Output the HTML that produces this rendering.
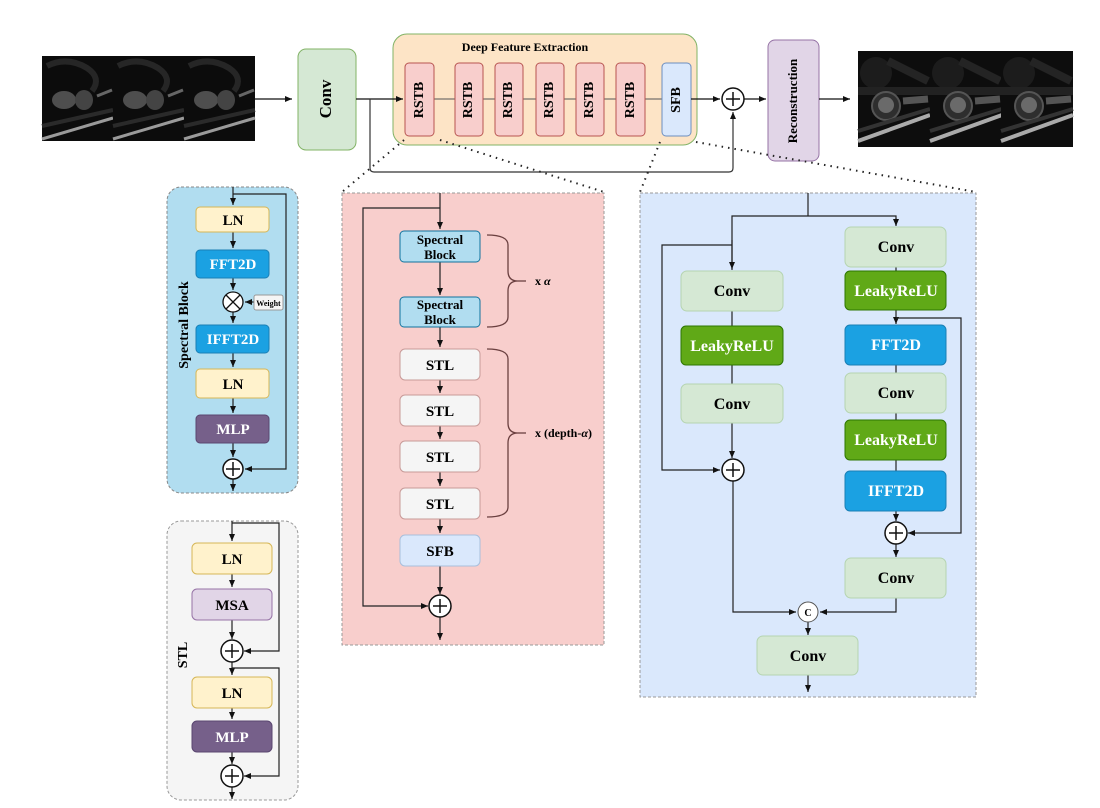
<!DOCTYPE html>
<html><head><meta charset="utf-8"><style>
html,body{margin:0;padding:0;background:#fff;}
svg{display:block;}
text{font-family:"Liberation Serif",serif;font-weight:bold;}
</style></head><body>
<svg width="1100" height="808" viewBox="0 0 1100 808" xmlns="http://www.w3.org/2000/svg">
<defs>
<marker id="a" markerWidth="8" markerHeight="8" refX="7" refY="4" orient="auto" markerUnits="userSpaceOnUse"><path d="M0,1 L7,4 L0,7 Z" fill="#111"/></marker>
<g id="mriIn">
<rect x="0" y="0" width="71" height="85" fill="#0c0c0c"/>
<path d="M5,10 Q25,0 45,12 Q60,22 50,35" stroke="#262626" stroke-width="6" fill="none"/>
<ellipse cx="22" cy="44" rx="12" ry="9" fill="#4e4e4e"/>
<ellipse cx="42" cy="44" rx="9" ry="10" fill="#444"/>
<path d="M55,40 L70,34" stroke="#666" stroke-width="3"/>
<path d="M0,83 L71,62" stroke="#9a9a9a" stroke-width="3"/>
<path d="M0,70 L71,54" stroke="#2a2a2a" stroke-width="4"/>
</g>
<g id="mriOut">
<rect x="0" y="0" width="72" height="96" fill="#0d0d0d"/>
<ellipse cx="18" cy="22" rx="16" ry="16" fill="#1c1c1c"/>
<path d="M30,10 L70,30" stroke="#242424" stroke-width="8"/>
<rect x="0" y="36" width="72" height="8" fill="#222"/>
<circle cx="28" cy="55" r="14" fill="#2e2e2e" stroke="#555" stroke-width="2"/>
<circle cx="28" cy="54" r="8" fill="#6a6a6a"/>
<path d="M45,50 L70,48" stroke="#555" stroke-width="7"/>
<path d="M0,90 L72,64" stroke="#aaa" stroke-width="4"/>
<path d="M0,80 L72,58" stroke="#333" stroke-width="4"/>
</g>
</defs>

<use href="#mriIn" x="42" y="56"/><use href="#mriIn" x="113" y="56"/><use href="#mriIn" x="184" y="56"/>
<line x1="255" y1="99" x2="292" y2="99" stroke="#111" stroke-width="1.2" marker-end="url(#a)"/>

<rect x="298" y="49" width="58" height="101" rx="8" fill="#d5e8d4" stroke="#82b366"/>
<text x="327" y="99" font-size="17" text-anchor="middle" dominant-baseline="middle" transform="rotate(-90 327 99)">Conv</text>

<rect x="393" y="34" width="304" height="111" rx="14" fill="#fde4c6" stroke="#82b366"/>
<text x="525" y="51" font-size="12" text-anchor="middle">Deep Feature Extraction</text>
<line x1="356" y1="99" x2="403" y2="99" stroke="#111" stroke-width="1.2" marker-end="url(#a)"/>
<line x1="434" y1="99" x2="662" y2="99" stroke="#555" stroke-width="1"/>
<g font-size="14">
<rect x="405" y="63" width="29" height="73" rx="4" fill="#f8cecc" stroke="#b85450"/>
<rect x="455" y="63" width="28" height="73" rx="4" fill="#f8cecc" stroke="#b85450"/>
<rect x="495" y="63" width="28" height="73" rx="4" fill="#f8cecc" stroke="#b85450"/>
<rect x="536" y="63" width="28" height="73" rx="4" fill="#f8cecc" stroke="#b85450"/>
<rect x="576" y="63" width="28" height="73" rx="4" fill="#f8cecc" stroke="#b85450"/>
<rect x="616" y="63" width="29" height="73" rx="4" fill="#f8cecc" stroke="#b85450"/>
<rect x="662" y="63" width="29" height="73" rx="4" fill="#dae8fc" stroke="#6c8ebf"/>
<text x="420" y="100" text-anchor="middle" dominant-baseline="middle" transform="rotate(-90 420 100)">RSTB</text>
<text x="469" y="100" text-anchor="middle" dominant-baseline="middle" transform="rotate(-90 469 100)">RSTB</text>
<text x="509" y="100" text-anchor="middle" dominant-baseline="middle" transform="rotate(-90 509 100)">RSTB</text>
<text x="550" y="100" text-anchor="middle" dominant-baseline="middle" transform="rotate(-90 550 100)">RSTB</text>
<text x="590" y="100" text-anchor="middle" dominant-baseline="middle" transform="rotate(-90 590 100)">RSTB</text>
<text x="631" y="100" text-anchor="middle" dominant-baseline="middle" transform="rotate(-90 631 100)">RSTB</text>
<text x="677" y="100" text-anchor="middle" dominant-baseline="middle" transform="rotate(-90 677 100)">SFB</text>
</g>
<line x1="691" y1="99" x2="720" y2="99" stroke="#111" stroke-width="1.2" marker-end="url(#a)"/>
<circle cx="733" cy="99" r="11" fill="#fff" stroke="#111" stroke-width="1.5"/>
<path d="M733,92 V106 M726,99 H740" stroke="#111" stroke-width="1.5"/>
<path d="M370,99 V168 Q370,172 374,172 H729 Q733,172 733,168 V112" fill="none" stroke="#333" stroke-width="1.2" marker-end="url(#a)"/>
<line x1="744" y1="99" x2="766" y2="99" stroke="#111" stroke-width="1.2" marker-end="url(#a)"/>

<rect x="768" y="40" width="51" height="121" rx="7" fill="#e1d5e7" stroke="#9673a6"/>
<text x="794" y="101" font-size="13" text-anchor="middle" dominant-baseline="middle" transform="rotate(-90 794 101)">Reconstruction</text>
<line x1="819" y1="99" x2="850" y2="99" stroke="#111" stroke-width="1.2" marker-end="url(#a)"/>
<use href="#mriOut" x="858" y="51"/><use href="#mriOut" x="930" y="51"/><use href="#mriOut" x="1001" y="51"/>

<g stroke="#222" stroke-width="2" stroke-dasharray="1.5,5" fill="none">
<line x1="404" y1="140" x2="342" y2="192"/>
<line x1="440" y1="140" x2="604" y2="192"/>
<line x1="660" y1="142" x2="640" y2="192"/>
<line x1="696" y1="142" x2="976" y2="192"/>
</g>

<rect x="167" y="187" width="131" height="306" rx="14" fill="#b1ddf0" stroke="#888" stroke-dasharray="3,2"/>
<text x="185" y="325" font-size="14" text-anchor="middle" dominant-baseline="middle" transform="rotate(-90 185 325)">Spectral Block</text>
<g stroke="#222" stroke-width="1.2" fill="none">
<line x1="233" y1="187" x2="233" y2="205" marker-end="url(#a)"/>
<path d="M233,194 H286 V469 H245" marker-end="url(#a)"/>
<line x1="233" y1="232" x2="233" y2="248" marker-end="url(#a)"/>
<line x1="233" y1="278" x2="233" y2="290" marker-end="url(#a)"/>
<line x1="254" y1="302" x2="245" y2="302" marker-end="url(#a)"/>
<line x1="233" y1="312" x2="233" y2="323" marker-end="url(#a)"/>
<line x1="233" y1="353" x2="233" y2="367" marker-end="url(#a)"/>
<line x1="233" y1="398" x2="233" y2="413" marker-end="url(#a)"/>
<line x1="233" y1="443" x2="233" y2="457" marker-end="url(#a)"/>
<line x1="233" y1="479" x2="233" y2="491" marker-end="url(#a)"/>
</g>
<g font-size="15" text-anchor="middle">
<rect x="196" y="207" width="73" height="25" rx="4" fill="#fff2cc" stroke="#d6b656"/><text x="233" y="225">LN</text>
<rect x="196" y="250" width="73" height="28" rx="4" fill="#1ba1e2" stroke="#1a7fb5"/><text x="233" y="269" fill="#fff">FFT2D</text>
<rect x="196" y="325" width="73" height="28" rx="4" fill="#1ba1e2" stroke="#1a7fb5"/><text x="233" y="344" fill="#fff">IFFT2D</text>
<rect x="196" y="369" width="73" height="29" rx="4" fill="#fff2cc" stroke="#d6b656"/><text x="233" y="389">LN</text>
<rect x="196" y="415" width="73" height="28" rx="4" fill="#76608a" stroke="#5a4670"/><text x="233" y="434" fill="#fff">MLP</text>
</g>
<circle cx="233" cy="302" r="10" fill="#fff" stroke="#111" stroke-width="1.3"/>
<path d="M226,295 L240,309 M240,295 L226,309" stroke="#111" stroke-width="1.3"/>
<rect x="254" y="295" width="29" height="15" rx="2" fill="#f5f5f5" stroke="#999"/>
<text x="268.5" y="306" font-size="8" text-anchor="middle">Weight</text>
<circle cx="233" cy="469" r="10" fill="#fff" stroke="#111" stroke-width="1.5"/>
<path d="M233,462 V476 M226,469 H240" stroke="#111" stroke-width="1.5"/>

<rect x="167" y="521" width="131" height="279" rx="14" fill="#f5f5f5" stroke="#999" stroke-dasharray="3,2"/>
<text x="184" y="655" font-size="14" text-anchor="middle" dominant-baseline="middle" transform="rotate(-90 184 655)">STL</text>
<g stroke="#222" stroke-width="1.2" fill="none">
<line x1="232" y1="521" x2="232" y2="541" marker-end="url(#a)"/>
<path d="M232,523 H279 V651 H244" marker-end="url(#a)"/>
<line x1="232" y1="574" x2="232" y2="587" marker-end="url(#a)"/>
<line x1="232" y1="620" x2="232" y2="639" marker-end="url(#a)"/>
<line x1="232" y1="662" x2="232" y2="675" marker-end="url(#a)"/>
<path d="M232,668 H279 V776 H244" marker-end="url(#a)"/>
<line x1="232" y1="708" x2="232" y2="719" marker-end="url(#a)"/>
<line x1="232" y1="752" x2="232" y2="764" marker-end="url(#a)"/>
<line x1="232" y1="787" x2="232" y2="799" marker-end="url(#a)"/>
</g>
<g font-size="15" text-anchor="middle">
<rect x="192" y="543" width="80" height="31" rx="5" fill="#fff2cc" stroke="#d6b656"/><text x="232" y="564">LN</text>
<rect x="192" y="589" width="80" height="31" rx="5" fill="#e1d5e7" stroke="#9673a6"/><text x="232" y="610">MSA</text>
<rect x="192" y="677" width="80" height="31" rx="5" fill="#fff2cc" stroke="#d6b656"/><text x="232" y="698">LN</text>
<rect x="192" y="721" width="80" height="31" rx="5" fill="#76608a" stroke="#5a4670"/><text x="232" y="742" fill="#fff">MLP</text>
</g>
<circle cx="232" cy="651" r="11" fill="#fff" stroke="#111" stroke-width="1.5"/>
<path d="M232,644 V658 M225,651 H239" stroke="#111" stroke-width="1.5"/>
<circle cx="232" cy="776" r="11" fill="#fff" stroke="#111" stroke-width="1.5"/>
<path d="M232,769 V783 M225,776 H239" stroke="#111" stroke-width="1.5"/>

<rect x="342" y="193" width="262" height="452" fill="#f8cecc" stroke="#999" stroke-dasharray="3,2"/>
<g stroke="#222" stroke-width="1.2" fill="none">
<line x1="440" y1="193" x2="440" y2="229" marker-end="url(#a)"/>
<path d="M440,208 H363 V606 H428" marker-end="url(#a)"/>
<line x1="440" y1="262" x2="440" y2="295" marker-end="url(#a)"/>
<line x1="440" y1="327" x2="440" y2="347" marker-end="url(#a)"/>
<line x1="440" y1="380" x2="440" y2="393" marker-end="url(#a)"/>
<line x1="440" y1="426" x2="440" y2="439" marker-end="url(#a)"/>
<line x1="440" y1="472" x2="440" y2="486" marker-end="url(#a)"/>
<line x1="440" y1="519" x2="440" y2="533" marker-end="url(#a)"/>
<line x1="440" y1="566" x2="440" y2="594" marker-end="url(#a)"/>
<line x1="440" y1="617" x2="440" y2="640" marker-end="url(#a)"/>
</g>
<g stroke="#6b4040" stroke-width="1.3" fill="none">
<path d="M487,235 Q508,235 508,245 V271 Q508,281 518,281 Q508,281 508,291 V317 Q508,327 487,327"/>
<line x1="518" y1="281" x2="526" y2="281"/>
<path d="M487,349 Q508,349 508,359 V423 Q508,433 518,433 Q508,433 508,443 V507 Q508,517 487,517"/>
<line x1="518" y1="433" x2="526" y2="433"/>
</g>
<text x="535" y="285" font-size="12">x <tspan font-style="italic">α</tspan></text>
<text x="535" y="437" font-size="12">x (depth-<tspan font-style="italic">α</tspan>)</text>
<g font-size="13" text-anchor="middle">
<rect x="400" y="231" width="80" height="31" rx="4" fill="#b1ddf0" stroke="#10739e"/><text x="440" y="244">Spectral</text><text x="440" y="259">Block</text>
<rect x="400" y="297" width="80" height="30" rx="4" fill="#b1ddf0" stroke="#10739e"/><text x="440" y="309">Spectral</text><text x="440" y="324">Block</text>
</g>
<g font-size="15" text-anchor="middle">
<rect x="400" y="349" width="80" height="31" rx="5" fill="#f5f5f5" stroke="#c89a98"/><text x="440" y="370">STL</text>
<rect x="400" y="395" width="80" height="31" rx="5" fill="#f5f5f5" stroke="#c89a98"/><text x="440" y="416">STL</text>
<rect x="400" y="441" width="80" height="31" rx="5" fill="#f5f5f5" stroke="#c89a98"/><text x="440" y="462">STL</text>
<rect x="400" y="488" width="80" height="31" rx="5" fill="#f5f5f5" stroke="#c89a98"/><text x="440" y="509">STL</text>
<rect x="400" y="535" width="80" height="31" rx="5" fill="#dae8fc" stroke="#a8bfdc"/><text x="440" y="556">SFB</text>
</g>
<circle cx="440" cy="606" r="11" fill="#fff" stroke="#111" stroke-width="1.5"/>
<path d="M440,599 V613 M433,606 H447" stroke="#111" stroke-width="1.5"/>

<rect x="640" y="193" width="336" height="504" fill="#dae8fc" stroke="#999" stroke-dasharray="3,2"/>
<g stroke="#222" stroke-width="1.2" fill="none">
<line x1="808" y1="193" x2="808" y2="216"/>
<path d="M732,270 V216 H896 V225" />
<line x1="896" y1="218" x2="896" y2="226" marker-end="url(#a)"/>
<line x1="732" y1="240" x2="732" y2="269" marker-end="url(#a)"/>
<path d="M732,245 H662 V470 H720" marker-end="url(#a)"/>
<line x1="732" y1="311" x2="732" y2="326"/>
<line x1="732" y1="365" x2="732" y2="384"/>
<line x1="732" y1="423" x2="732" y2="458" marker-end="url(#a)"/>
<path d="M733,481 V612 H796" marker-end="url(#a)"/>
<line x1="896" y1="267" x2="896" y2="271"/>
<line x1="896" y1="310" x2="896" y2="324" marker-end="url(#a)"/>
<path d="M896,318 H961 V533 H908" marker-end="url(#a)"/>
<line x1="896" y1="365" x2="896" y2="373"/>
<line x1="896" y1="413" x2="896" y2="420"/>
<line x1="896" y1="460" x2="896" y2="471"/>
<line x1="896" y1="511" x2="896" y2="521" marker-end="url(#a)"/>
<line x1="896" y1="544" x2="896" y2="557" marker-end="url(#a)"/>
<path d="M896,598 V612 H820" marker-end="url(#a)"/>
<line x1="808" y1="622" x2="808" y2="635" marker-end="url(#a)"/>
<line x1="808" y1="675" x2="808" y2="692" marker-end="url(#a)"/>
</g>
<g font-size="16" text-anchor="middle">
<rect x="681" y="271" width="102" height="40" rx="6" fill="#d5e8d4" stroke="#b5d4b0"/><text x="732" y="296">Conv</text>
<rect x="681" y="326" width="102" height="39" rx="5" fill="#60a917" stroke="#2d7600"/><text x="732" y="351" fill="#fff">LeakyReLU</text>
<rect x="681" y="384" width="102" height="39" rx="6" fill="#d5e8d4" stroke="#b5d4b0"/><text x="732" y="409">Conv</text>
<rect x="845" y="227" width="101" height="40" rx="6" fill="#d5e8d4" stroke="#b5d4b0"/><text x="896" y="252">Conv</text>
<rect x="845" y="271" width="101" height="39" rx="5" fill="#60a917" stroke="#2d7600"/><text x="896" y="296" fill="#fff">LeakyReLU</text>
<rect x="845" y="325" width="101" height="40" rx="5" fill="#1ba1e2" stroke="#1a7fb5"/><text x="896" y="350" fill="#fff">FFT2D</text>
<rect x="845" y="373" width="101" height="40" rx="6" fill="#d5e8d4" stroke="#b5d4b0"/><text x="896" y="398">Conv</text>
<rect x="845" y="420" width="101" height="40" rx="5" fill="#60a917" stroke="#2d7600"/><text x="896" y="445" fill="#fff">LeakyReLU</text>
<rect x="845" y="471" width="101" height="40" rx="5" fill="#1ba1e2" stroke="#1a7fb5"/><text x="896" y="496" fill="#fff">IFFT2D</text>
<rect x="845" y="558" width="101" height="40" rx="6" fill="#d5e8d4" stroke="#b5d4b0"/><text x="896" y="583">Conv</text>
<rect x="757" y="636" width="101" height="39" rx="6" fill="#d5e8d4" stroke="#b5d4b0"/><text x="808" y="661">Conv</text>
</g>
<circle cx="733" cy="470" r="11" fill="#fff" stroke="#111" stroke-width="1.5"/>
<path d="M733,463 V477 M726,470 H740" stroke="#111" stroke-width="1.5"/>
<circle cx="896" cy="533" r="11" fill="#fff" stroke="#111" stroke-width="1.5"/>
<path d="M896,526 V540 M889,533 H903" stroke="#111" stroke-width="1.5"/>
<circle cx="808" cy="612" r="10" fill="#fff" stroke="#555" stroke-width="1"/>
<text x="808" y="616" font-size="10" text-anchor="middle">C</text>
</svg>
</body></html>
